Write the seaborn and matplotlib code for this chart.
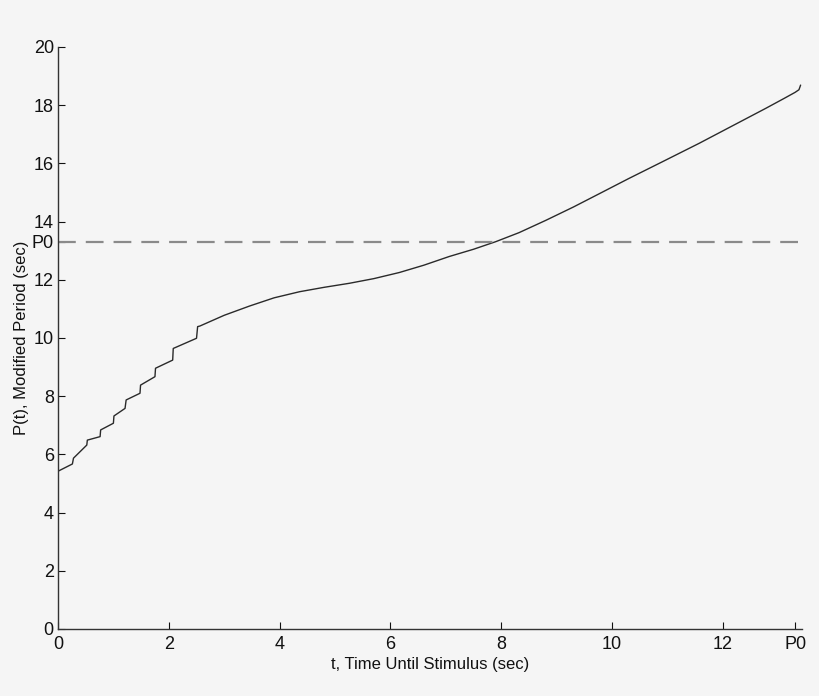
import numpy as np
import pandas as pd
import matplotlib
matplotlib.use("Agg")
import matplotlib.pyplot as plt
import seaborn as sns

# modified period curve
# staircase part (each step: value before jump, value after jump)
t_stairs = [0.0, 0.26, 0.28, 0.52, 0.53, 0.76, 0.77, 1.00, 1.01, 1.21, 1.23,
            1.48, 1.49, 1.75, 1.76, 2.07, 2.08, 2.50, 2.52]
p_stairs = [5.42, 5.67, 5.87, 6.32, 6.49, 6.61, 6.84, 7.07, 7.32, 7.58, 7.87,
            8.10, 8.38, 8.67, 8.96, 9.24, 9.64, 9.99, 10.39]
# smooth part
t_smooth = [2.56, 3.0, 3.46, 3.9, 4.36, 4.8, 5.26, 5.7, 6.16, 6.6, 7.06, 7.5,
            7.9, 8.32, 8.8, 9.3, 9.77, 10.3, 10.9, 11.57, 12.2, 12.77, 13.1, 13.3,
            13.37, 13.4]
p_smooth = [10.41, 10.78, 11.1, 11.38, 11.59, 11.74, 11.88, 12.04, 12.25, 12.5, 12.8,
            13.05, 13.31, 13.62, 14.04, 14.5, 14.96, 15.48, 16.05, 16.69, 17.32, 17.89,
            18.23, 18.44, 18.53, 18.69]

P0 = 13.3
xticks = [0, 2, 4, 6, 8, 10, 12]
yticks = [0, 2, 4, 6, 8, 10, 12, 14, 16, 18, 20]

df = pd.DataFrame({
    "t": t_stairs + t_smooth,
    "P": p_stairs + p_smooth,
})

sns.set_style("ticks")
plt.rcParams['font.family'] = ['Liberation Sans', 'DejaVu Sans']
bg = "#f5f5f5"

fig = plt.figure(figsize=(8.2, 6.96), dpi=100, facecolor=bg)
ax = fig.add_axes([0.0707, 0.0963, 0.9070, 0.8362])
ax.set_facecolor(bg)

sns.lineplot(data=df, x="t", y="P", estimator=None, sort=False,
             color="#2a2a2a", linewidth=1.0, ax=ax)
ax.axhline(P0, color="#8a8a8a", linewidth=1.6, dashes=(8, 4.5))

ax.set_xlim(0, 13.42)
ax.set_ylim(0, 20)
ax.set_xticks(xticks + [P0])
ax.set_xticklabels([str(v) for v in xticks] + ["P0"])
ax.set_yticks(yticks + [P0])
ax.set_yticklabels([str(v) for v in yticks] + ["P0"])
ax.tick_params(direction="in", length=5, width=0.8, labelsize=13, colors="#111111", pad=3)
ax.tick_params(axis="x", pad=5)

sns.despine(ax=ax)
for s in ["left", "bottom"]:
    ax.spines[s].set_color("#333333")
    ax.spines[s].set_linewidth(1.0)

ax.set_xlabel("t, Time Until Stimulus (sec)", fontsize=12, labelpad=3, color="#111111")
ax.set_ylabel("P(t), Modified Period (sec)", fontsize=12, labelpad=2, color="#111111")

fig.savefig("out.png", dpi=100, facecolor=bg)
